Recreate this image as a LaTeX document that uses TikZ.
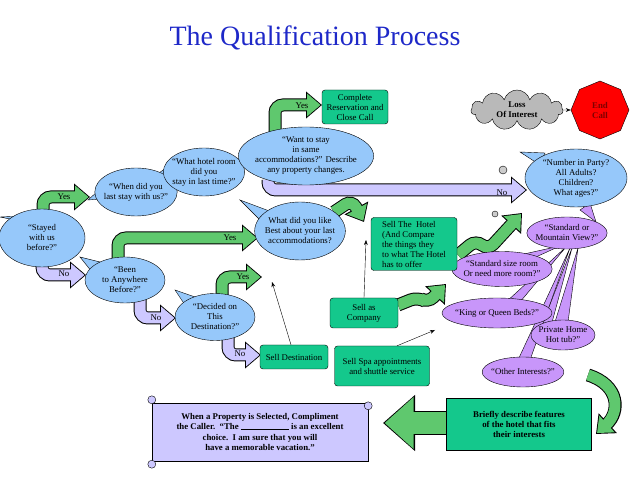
\documentclass[tikz,border=0pt]{standalone}
\usepackage{fontspec}
\setmainfont{Liberation Serif}
\usetikzlibrary{shapes.geometric,shapes.symbols,arrows.meta,backgrounds}
\definecolor{bub}{RGB}{150,200,250}
\definecolor{box}{RGB}{20,200,140}
\definecolor{ag}{RGB}{95,200,110}
\definecolor{lav}{RGB}{205,200,255}
\definecolor{pur}{RGB}{200,150,250}
\definecolor{ttl}{RGB}{30,40,200}
\tikzset{
 bubble/.style={ellipse,draw=black,fill=bub,inner sep=-3pt,align=center,font=\fontsize{8.8}{10}\selectfont},
 pbub/.style={ellipse,draw=black,fill=pur,inner sep=-3pt,align=center,font=\fontsize{8.8}{10}\selectfont},
 gbox/.style={draw=black,fill=box,rounded corners=3pt,align=center,inner sep=2pt,font=\fontsize{8.8}{10}\selectfont},
 tail/.style={draw=black,fill=bub},
 ptail/.style={draw=black,fill=pur},
 fatK/.style={line width=13pt,draw=black,rounded corners=8pt,-{Triangle[length=16pt,width=26pt]}},
 fatC/.style={line width=11pt,rounded corners=8pt,-{Triangle[length=13.5pt,width=22pt]},shorten >=1.4pt},
 lbl/.style={font=\fontsize{8.8}{10}\selectfont},
 thin/.style={draw=black,-{Stealth[length=5pt]}}
}
\newcommand\fatarrow[2]{\draw[fatK] #2; \draw[fatC,draw=#1] #2;}
\begin{document}
\begin{tikzpicture}[x=1pt,y=-1pt]
\useasboundingbox (0,0) rectangle (638,478);
% title
\node (title)[text=ttl,font=\fontsize{28}{30}\selectfont] at (315,38) {The Qualification Process};
% bubbles
\node[bubble,minimum width=86,minimum height=58] (stayed) at (42,238) {``Stayed\\with us\\before?''};
\node[bubble,minimum width=80,minimum height=48] (when) at (136,192) {``When did you\\last stay with us?''};
\node[bubble,minimum width=80,minimum height=48] (room) at (204,172) {``What hotel room\\did you\\stay in last time?''};
\node[bubble,minimum width=124,minimum height=58] (want) at (306,156) {``Want to stay\\in same\\accommodations?'' Describe\\any property changes.};
\node[bubble,minimum width=88,minimum height=58] (like) at (300,231) {What did you like\\Best about your last\\accommodations?};
\node[bubble,minimum width=80,minimum height=46] (been) at (125,280) {``Been\\to Anywhere\\Before?''};
\node[bubble,minimum width=80,minimum height=47] (decided) at (215,317) {``Decided on\\This\\Destination?''};
\node[bubble,minimum width=102,minimum height=58] (party) at (576,178) {``Number in Party?\\All Adults?\\Children?\\What ages?''};
% purple
\node[pbub,minimum width=80,minimum height=32] (view) at (567,233) {``Standard or\\Mountain View?''};
\node[pbub,minimum width=100,minimum height=35] (size) at (502,269) {``Standard size room\\Or need more room?''};
\node[pbub,minimum width=92,minimum height=30] (king) at (497,313) {``King or Queen Beds?''};
\node[pbub,minimum width=64,minimum height=30] (tub) at (563,335) {Private Home\\Hot tub?''};
\node[pbub,minimum width=80,minimum height=30] (other) at (523,372) {``Other Interests?''};
% boxes
\node[gbox,minimum width=66,minimum height=34] (complete) at (355,107) {Complete\\Reservation and\\Close Call};
\node[gbox,minimum width=68,minimum height=24] (selldest) at (294,357) {Sell Destination};
\node[gbox,minimum width=68,minimum height=30] (company) at (364,313) {Sell as\\Company};
\node[gbox,minimum width=95,minimum height=40] (spa) at (382,366) {Sell Spa appointments\\and shuttle service};
\node[gbox,minimum width=86,minimum height=53,align=left] (hotel) at (414,244) {Sell The \ Hotel\\(And Compare\\the things they\\to what The Hotel\\has to offer};
\node[gbox,minimum width=145,minimum height=52,rounded corners=0pt,font=\fontsize{8.8}{10}\bfseries\selectfont] (brief) at (519,424) {Briefly describe features\\of the hotel that fits\\their interests};
\node[cloud,draw=black,fill=gray!55,cloud puffs=11,aspect=2.4,minimum width=92,minimum height=40,inner sep=0pt,align=center,font=\fontsize{8.8}{10}\bfseries\selectfont] (loss) at (517,110) {Loss\\Of Interest};
\node[regular polygon,regular polygon sides=8,draw=black,fill=red,minimum size=58,shape border rotate=22.5,text=red!50!black,align=center,font=\fontsize{8.8}{10}\bfseries\selectfont] (end) at (600,110) {End\\Call};
% scroll
\node[draw=black,fill=lav,minimum width=216,minimum height=58,inner sep=2pt,align=center,font=\fontsize{8.8}{10.5}\bfseries\selectfont] (scroll) at (260,432) {When a Property is Selected, Compliment\\the Caller.\ \ ``The \rule{48pt}{0.4pt} is an excellent\\choice.\ \ I am sure that you will\\have a memorable vacation.''};
\draw[fill=lav] (scroll.north west) ++(0,-3) circle (4);
\draw[fill=lav] (scroll.south west) ++(0,3) circle (4);
\draw[fill=lav] (scroll.north east) ++(0,3) circle (4);
% small circles
\draw[fill=gray!40] (503,170) circle (4);
\draw[fill=gray!40] (495,214) circle (3);
\begin{scope}[on background layer]
% tails
\draw[tail] (0,217) -- (25,222) -- (45,215) -- cycle;
\draw[tail] (88,200) -- (108,182) -- (112,198) -- cycle;
\draw[tail] (148,181) -- (170,165) -- (175,180) -- cycle;
\draw[tail] (232,168) -- (255,150) -- (258,165) -- cycle;
\draw[tail] (240,200) -- (272,212) -- (262,222) -- cycle;
\draw[tail] (80,257) -- (100,262) -- (92,272) -- cycle;
\draw[tail] (175,290) -- (195,297) -- (185,305) -- cycle;
\draw[tail] (520,152) -- (545,153) -- (540,165) -- cycle;
\draw[ptail] (590,203) -- (580,210) -- (596,222) -- cycle;
\draw[ptail] (560,246) -- (515,256) -- (525,262) -- cycle;
\draw[ptail] (566,247) -- (505,303) -- (515,308) -- cycle;
\draw[ptail] (572,248) -- (540,330) -- (550,330) -- cycle;
\draw[ptail] (578,248) -- (555,322) -- (568,322) -- cycle;
\draw[ptail] (570,248) -- (518,360) -- (530,360) -- cycle;
% fat arrows
\fatarrow{ag}{(43,220) -- (43,197) -- (90,197)}
\fatarrow{lav}{(42,258) -- (42,275) -- (86,275)}
\fatarrow{ag}{(118,262) -- (118,238) -- (258,238)}
\fatarrow{lav}{(140,298) -- (140,318) -- (176,318)}
\fatarrow{ag}{(222,298) -- (222,277) -- (262,277)}
\fatarrow{lav}{(228,335) -- (228,355) -- (261,355)}
\fatarrow{ag}{(275,135) -- (275,105) -- (322,105)}
\fatarrow{lav}{(268,180) -- (268,190) -- (527,190)}
\fatarrow{ag}{(334,212) -- (352,200) -- (364,222)}
\fatarrow{ag}{(458,255) -- (476,240) -- (488,250) -- (522,213)}
\fatarrow{ag}{(398,305) -- (418,297) -- (428,303) -- (446,284)}
\fatarrow{ag}{(588,375) .. controls (620,385) and (620,412) .. (596,434)}
\draw[line width=24pt,draw=black,-{Triangle[length=32pt,width=54pt]}] (448,423) -- (383,423);
\draw[line width=22pt,draw=ag,-{Triangle[length=29pt,width=50pt]},shorten >=1.6pt] (448,423) -- (383,423);
\end{scope}
% labels
\node[lbl] at (64,197) {Yes};
\node[lbl] at (64,274) {No};
\node[lbl] at (230,238) {Yes};
\node[lbl] at (156,318) {No};
\node[lbl] at (243,277) {Yes};
\node[lbl] at (240,354) {No};
\node[lbl] at (302,106) {Yes};
\node[lbl] at (502,193) {No};
% thin arrows
\draw[thin] (company.north) -- (366,240);
\draw[thin] ([xshift=-3pt]selldest.north) -- (272,282);
\draw[thin] ([xshift=15pt]spa.north) -- (435,330);
\draw[thin] (loss) -- (end);
\end{tikzpicture}
\end{document}
